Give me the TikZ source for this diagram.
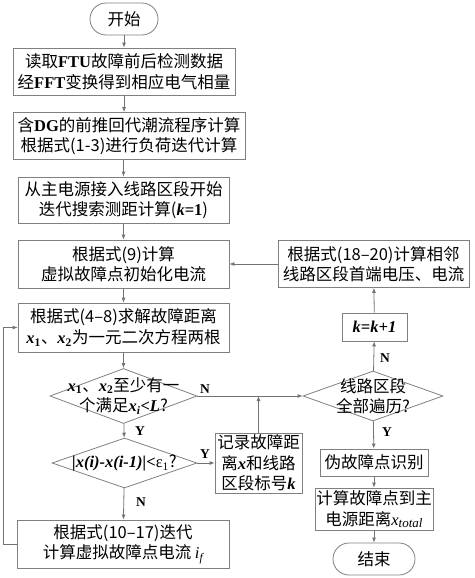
\documentclass[tikz,border=0pt]{standalone}
\usepackage{fontspec}
\setmainfont{Noto Sans CJK SC}
\newfontfamily\tnr{Liberation Serif}
\usetikzlibrary{shapes.geometric,arrows.meta}
\newcommand\vb[1]{{\tnr\bfseries\itshape #1}}
\newcommand\rb[1]{{\tnr\bfseries #1}}
\newcommand\vi[1]{{\tnr\itshape #1}}
\begin{document}
\begin{tikzpicture}[x=1pt,y=-1pt,
  line/.style={draw=black!55, line width=0.8pt},
  arr/.style={line, -{Latex[length=5pt,width=4pt]}},
  box/.style={draw=black!50, line width=0.8pt, align=center, inner sep=0pt, font=\fontsize{16.5}{20.5}\selectfont},
  term/.style={box, rounded corners=16pt},
  dia/.style={draw=black!50, line width=0.8pt, diamond, inner sep=0pt},
  dtext/.style={align=center, inner sep=0pt, font=\fontsize{16.5}{20.5}\selectfont},
  lab/.style={font=\tnr\bfseries\fontsize{13.5}{13.5}\selectfont, inner sep=1pt}]
\useasboundingbox (0,0) rectangle (474,578);

\node[term, minimum width=68pt, minimum height=32pt] (start) at (124,19) {开始};
\node[box, minimum width=222pt, minimum height=47pt] (b1) at (124,71.5) {读取\rb{FTU}故障前后检测数据\\经\rb{FFT}变换得到相应电气相量};
\node[box, minimum width=232pt, minimum height=47pt] (b2) at (129,136) {含\rb{DG}的前推回代潮流程序计算\\根据式(1-3)进行负荷迭代计算};
\node[box, minimum width=211pt, minimum height=46pt] (b3) at (123.5,200) {从主电源接入线路区段开始\\迭代搜索测距计算(\vb{k}\rb{=1})};
\node[box, minimum width=211pt, minimum height=48pt] (b4) at (123.5,264) {根据式(9)计算\\虚拟故障点初始化电流};
\node[box, minimum width=211pt, minimum height=49pt] (b5) at (123.5,327.5) {根据式(4–8)求解故障距离\\\vb{x}\textsubscript{\rb{1}}、\vb{x}\textsubscript{\rb{2}}为一元二次方程两根};
\node[dia, minimum width=147pt, minimum height=55pt] (d1) at (123.5,396) {};
\node[dtext] (d1t) at (d1) {\vb{x}\textsubscript{\rb{1}}、\vb{x}\textsubscript{\rb{2}}至少有一\\个满足\vb{x}\textsubscript{\vb{i}}{\tnr\bfseries<}\vb{L}?};
\node[dia, minimum width=145pt, minimum height=50pt] (d2) at (124.5,463) {};
\node[dtext] (d2t) at (d2) {\vb{|x(i)-x(i-1)|<}{\tnr ε}\textsubscript{\tnr 1}?};
\node[box, minimum width=212pt, minimum height=48pt] (b6) at (123,544) {根据式(10–17)迭代\\计算虚拟故障点电流 \vi{i}\textsubscript{\vi{f}}};
\node[box, minimum width=87pt, minimum height=60pt] (rec) at (258.5,463) {记录故障距\\离\vb{x}和线路\\区段标号\vb{k}};
\node[box, minimum width=191pt, minimum height=47pt] (r1) at (373.5,264) {根据式(18–20)计算相邻\\线路区段首端电压、电流};
\node[box, minimum width=65pt, minimum height=28pt] (kk) at (374.5,327) {\vb{k=k+1}};
\node[dia, minimum width=140pt, minimum height=50pt] (d3) at (373,396) {};
\node[dtext] (d3t) at (d3) {线路区段\\全部遍历?};
\node[box, minimum width=108pt, minimum height=27pt] (fake) at (374,462.5) {伪故障点识别};
\node[box, minimum width=118pt, minimum height=42pt] (tot) at (374,509) {计算故障点到主\\电源距离\vi{x}{\tnr\itshape\fontsize{13}{13}\selectfont\raisebox{-0.35ex}{total}}};
\node[term, minimum width=82pt, minimum height=32pt] (end) at (374,559) {结束};

\draw[arr] (start) -- (b1);
\draw[arr] (b1) -- (b1 |- b2.north);
\draw[arr] (b3.north |- b2.south) -- (b3.north);
\draw[arr] (b3) -- (b4);
\draw[arr] (b4) -- (b5);
\draw[arr] (b5) -- (d1);
\draw[arr] (d1) -- (d2);
\draw[arr] (d2) -- (b6);
\draw[arr] (d2) -- (rec);
\draw[arr] (d1.east) -- (d3.west);
\draw[arr] (rec.north) -- (rec.north |- d1.east);
\draw[arr] (d3) -- (kk);
\draw[arr] (kk) -- (r1);
\draw[arr] (r1.west) -- (b4.east);
\draw[arr] (d3) -- (fake);
\draw[arr] (fake) -- (tot);
\draw[arr] (tot) -- (end);
\draw[arr] (b6.west) -- ++(-13,0) |- (b5.west);

\node[lab] (ln1) at (205,389) {N};
\node[lab] (ly1) at (140,431) {Y};
\node[lab] (ly2) at (205,454) {Y};
\node[lab] (ln2) at (141,502) {N};
\node[lab] (ln3) at (385,358) {N};
\node[lab] (ly3) at (387,432) {Y};
\end{tikzpicture}
\end{document}
